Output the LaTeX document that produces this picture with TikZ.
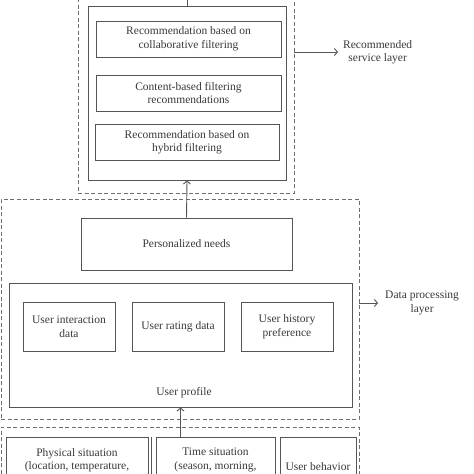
\documentclass[tikz,border=0pt]{standalone}
\usepackage{fontspec}
\setmainfont{Liberation Serif}
\usetikzlibrary{arrows.meta}
\definecolor{ln}{HTML}{555555}
\definecolor{tx}{HTML}{383838}
\definecolor{dsh}{HTML}{6E6E6E}
\begin{document}
\begin{tikzpicture}[x=1pt,y=-1pt,
  box/.style={draw=ln, line width=0.9pt, text=tx, align=center, inner sep=0pt,
    font=\fontsize{11.5}{13.5}\selectfont},
  txt/.style={text=tx, align=center, inner sep=0pt, font=\fontsize{11.5}{13.5}\selectfont},
  layer/.style={draw=dsh, line width=0.9pt, dash pattern=on 4pt off 2.5pt, inner sep=0pt},
  arr/.style={draw=ln, line width=0.9pt, -{Straight Barb[length=3pt,width=7pt]}},
  ln/.style={draw=ln, line width=0.9pt}]
\useasboundingbox (0,0) rectangle (474,474);
\begin{scope}
\clip (0,0) rectangle (474,474);
% recommended service layer
\node[layer, minimum width=216pt, minimum height=213pt] (reclayer) at (186,86.5) {};
\node[box, minimum width=198pt, minimum height=174pt] (recbox) at (187,93) {};
\node[box, minimum width=185pt, minimum height=36pt] (cf) at (188.5,39) {Recommendation based on\\collaborative filtering};
\node[box, minimum width=185pt, minimum height=36pt] (cb) at (188.5,93) {Content-based filtering\\recommendations};
\node[box, minimum width=184pt, minimum height=36pt] (hf) at (187,142) {Recommendation based on\\hybrid filtering};
\coordinate (topend) at (187,-5);
\draw[ln] (recbox.north) -- (topend);
% data processing layer
\node[layer, minimum width=358pt, minimum height=220pt] (dplayer) at (180,309) {};
\node[box, minimum width=211pt, minimum height=52pt] (pn) at (186.5,244) {Personalized needs};
\node[box, minimum width=343pt, minimum height=124pt] (up) at (180.5,345) {};
\node[txt] (uplabel) at (184,393) {User profile};
\node[box, minimum width=92pt, minimum height=49pt] (u1) at (69,326.5) {User interaction\\data};
\node[box, minimum width=92pt, minimum height=49pt] (u2) at (178,326.5) {User rating data};
\node[box, minimum width=92pt, minimum height=49pt] (u3) at (287,326.5) {User history\\preference};
\draw[arr] (pn.north) -- (recbox.south);
% situation layer
\node[layer, minimum width=358pt, minimum height=80pt] (sitlayer) at (180,467) {};
\node[box, minimum width=142pt, minimum height=80pt] (b1) at (77,477) {};
\node[box, minimum width=119pt, minimum height=80pt] (b2) at (215.5,477) {};
\node[box, minimum width=76pt, minimum height=80pt] (b3) at (318,477) {};
\coordinate (ex1) at (151,437);
\coordinate (ex2) at (151,520);
\draw[ln] (ex1) -- (ex2);
\node[txt] (b1t) at (77,460) {Physical situation\\(location, temperature,};
\node[txt] (b2t) at (215.5,460) {Time situation\\(season, morning,};
\node[txt] (b3t) at (318,466.5) {User behavior};
\draw[arr] (up.south |- b2.north) -- (up.south);
\end{scope}
% layer labels
\coordinate (ra) at (294,52);
\coordinate (rb) at (338,52);
\draw[arr] (ra) -- (rb);
\node[txt, anchor=west] (rlab) at (343,52) {Recommended\\service layer};
\coordinate (da) at (359,303);
\coordinate (db) at (378,303);
\draw[arr] (da) -- (db);
\node[txt, anchor=west] (dlab) at (385,303) {Data processing\\layer};
\end{tikzpicture}
\end{document}
